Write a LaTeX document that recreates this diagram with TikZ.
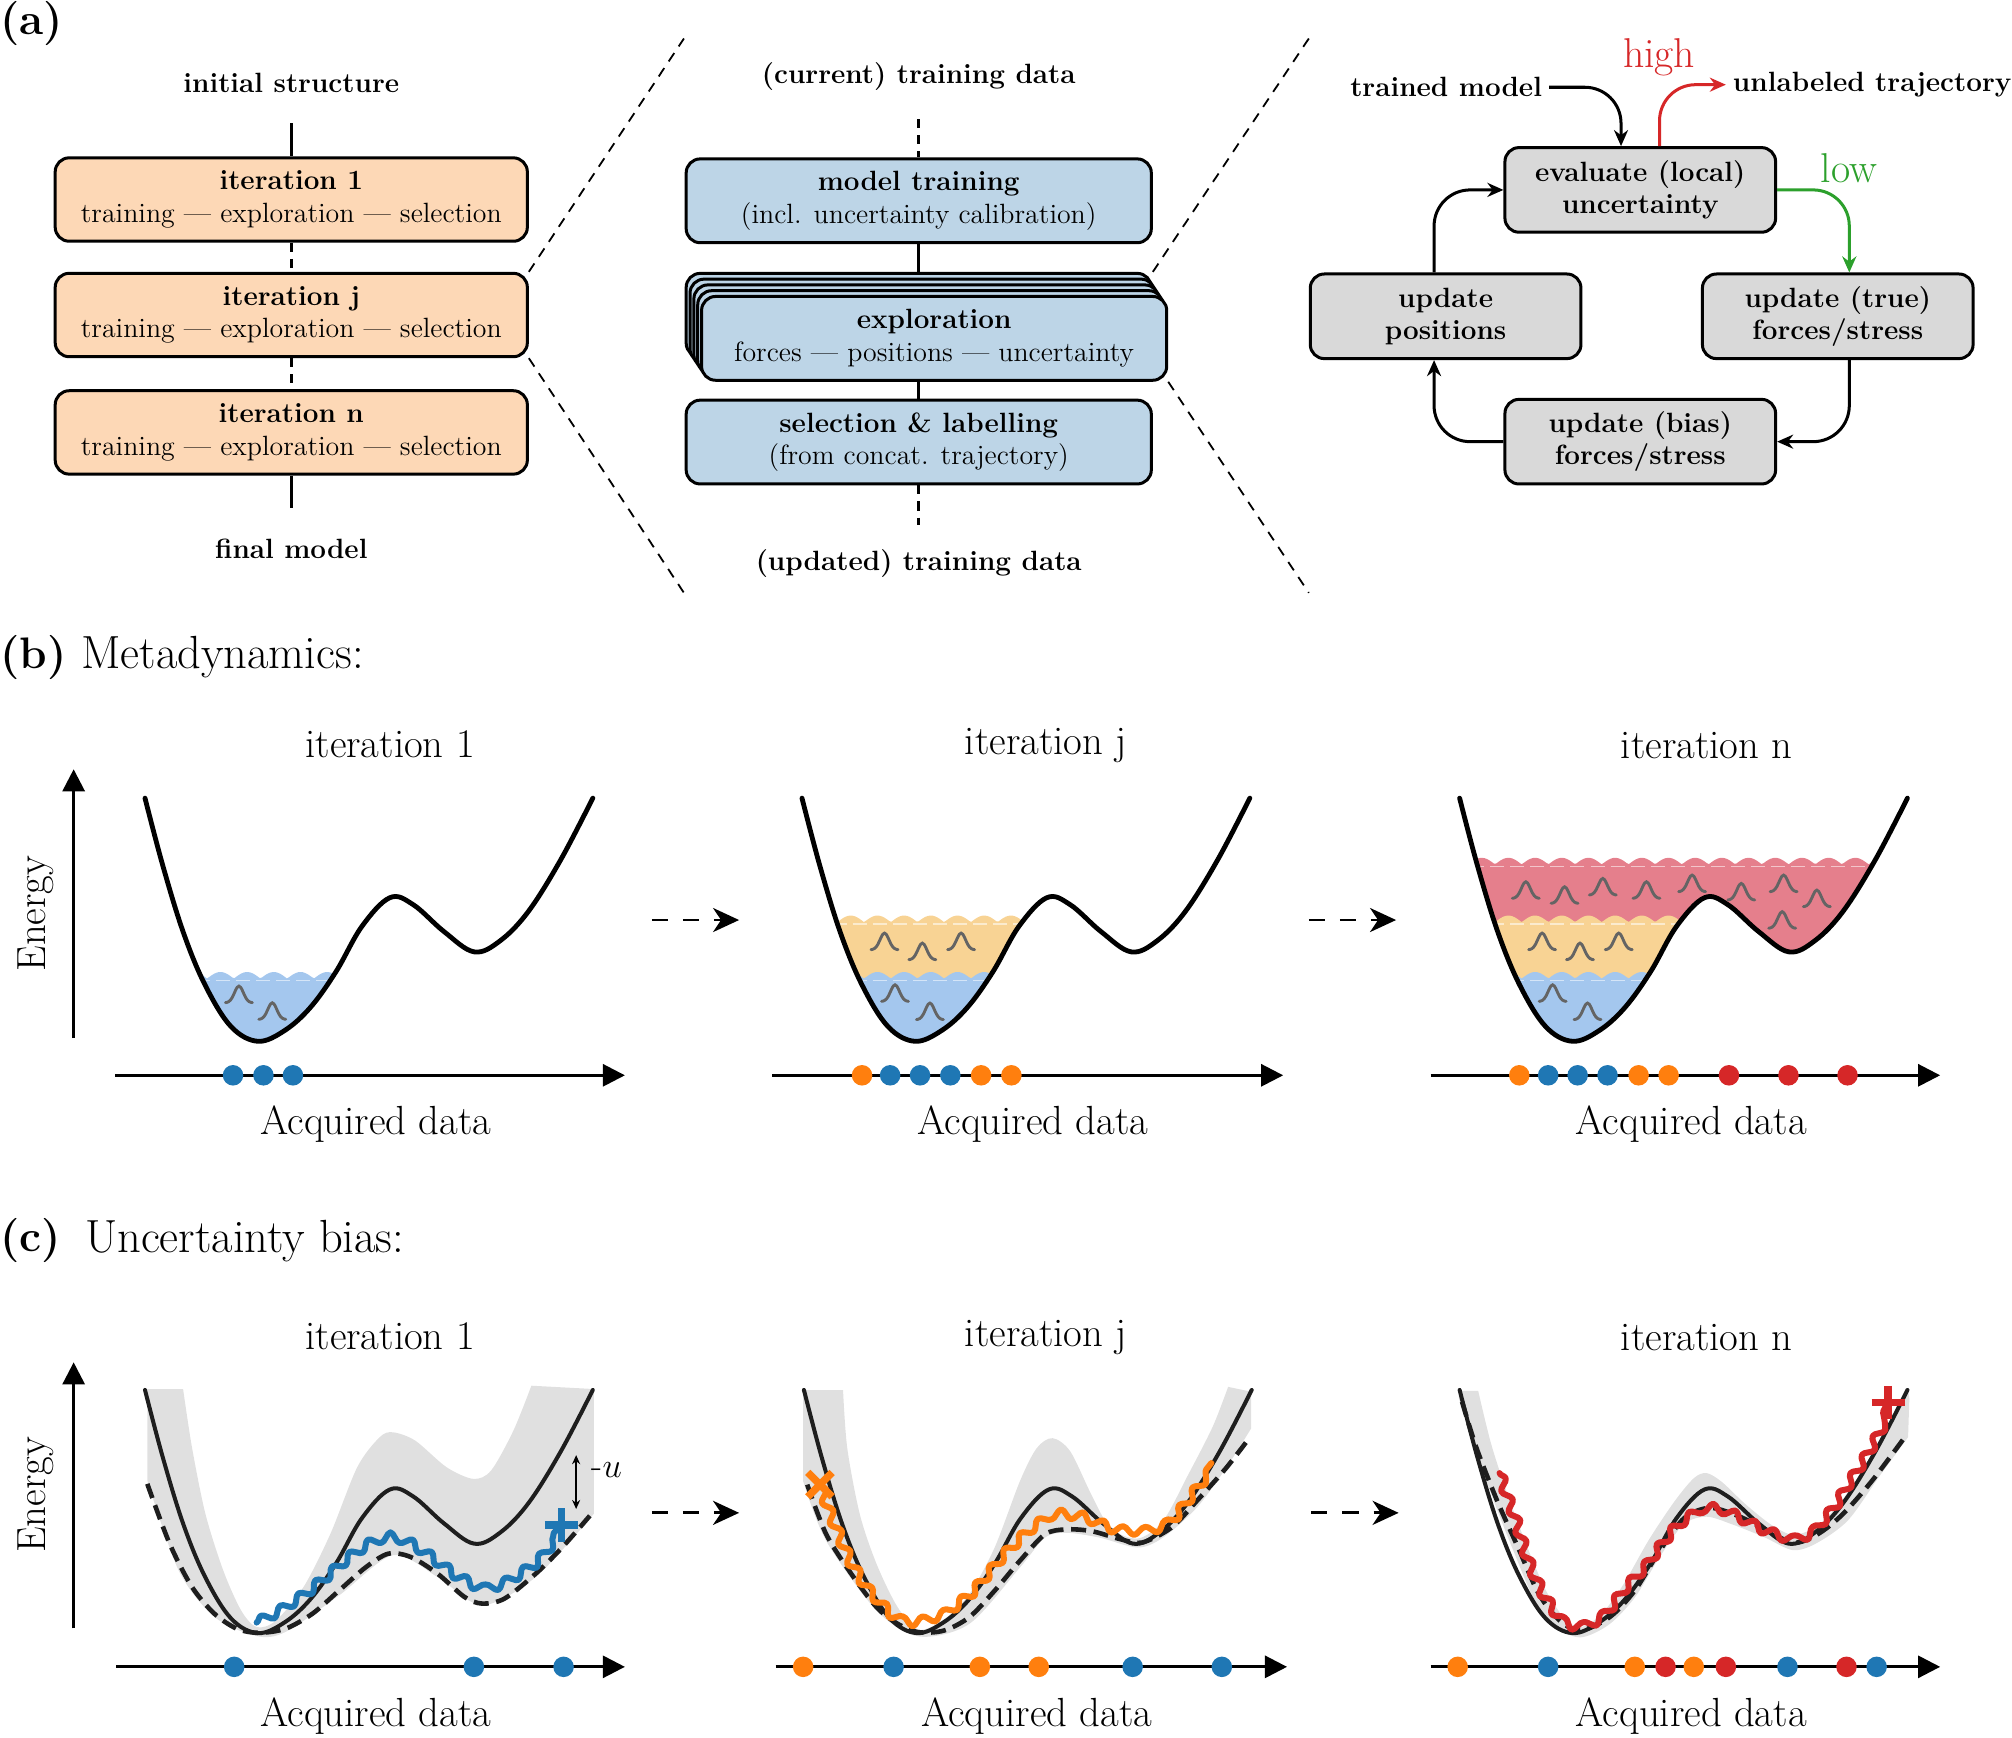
\documentclass[tikz,border=0pt]{standalone}
\usepackage{fontspec}
\usetikzlibrary{arrows.meta,calc,decorations.pathmorphing}

\definecolor{boxorange}{RGB}{253,216,182}
\definecolor{boxblue}{RGB}{189,213,231}
\definecolor{boxgrey}{RGB}{217,217,217}
\definecolor{waterblue}{RGB}{164,199,238}
\definecolor{waterorange}{RGB}{248,211,148}
\definecolor{waterred}{RGB}{229,127,140}
\definecolor{tabblue}{RGB}{31,119,180}
\definecolor{taborange}{RGB}{255,127,14}
\definecolor{tabred}{RGB}{214,39,40}
\definecolor{tabgreen}{RGB}{44,160,44}
\definecolor{bandgrey}{RGB}{224,224,224}
\definecolor{gaussgrey}{RGB}{100,100,100}
\definecolor{curvegrey}{RGB}{30,30,30}

\newcommand{\FSbox}{\fontsize{13.9}{16.2}\selectfont}
\newcommand{\FStitle}{\fontsize{20.3}{24}\selectfont}
\newcommand{\FShl}{\fontsize{20.8}{24}\selectfont}
\newcommand{\FSsec}{\fontsize{23.2}{27}\selectfont}
\newcommand{\FSlab}{\fontsize{22}{26}\selectfont}
\newcommand{\FSu}{\fontsize{18}{21}\selectfont}

\newcommand{\bcurve}{plot[smooth,tension=0.6] coordinates {(113,622) (127,675) (143,727) (160,768) (180,800) (201,811.5) (222,803) (242,785) (262,757) (282,722) (303.8,699.6) (322,705) (346,726) (369.5,741.8) (390,733) (412,710) (437,670) (462,622)}}
\newcommand{\bowlclip}{\clip \bcurve -- (462,600) -- (113,600) -- cycle;}
\newcommand{\waterfill}[2]{%
  \fill[#1] (90,830) -- plot[domain=90:480, samples=220] (\x,{#2+5.2-5.2*abs(sin(8.654*(\x-99)))}) -- (480,830) -- cycle;
  \draw[white, opacity=0.55, line width=0.6pt, dash pattern=on 7pt off 3pt] (90,#2+6.6) -- (480,#2+6.6);
}

\begin{document}
\begin{tikzpicture}[x=0.64pt,y=-0.64pt,
  txt/.style={inner sep=0pt},
  flowbox/.style={draw, line width=1.5pt, rounded corners=7pt, inner sep=0pt, align=center, font=\FSbox},
  orangebox/.style={flowbox, fill=boxorange, minimum width=235.5pt, minimum height=41.6pt},
  bluebox/.style={flowbox, fill=boxblue, minimum width=232pt, minimum height=41.8pt},
  greybox/.style={flowbox, fill=boxgrey, minimum width=135pt, minimum height=42.2pt, font=\FSbox\bfseries},
  solidcon/.style={line width=1.5pt},
  dashcon/.style={line width=1.5pt, dash pattern=on 4.5pt off 3.5pt},
  zoomline/.style={line width=0.9pt, dash pattern=on 5pt off 4pt},
  flow/.style={line width=1.5pt, rounded corners=18pt, -{Stealth[length=8pt,width=7pt]}},
  ecurve/.style={line width=2.4pt, line join=round, line cap=round},
  csolid/.style={line width=2pt, draw=curvegrey, line cap=round},
  cdash/.style={line width=2.3pt, draw=curvegrey, dash pattern=on 7.5pt off 3.8pt},
  axisarrow/.style={line width=1.4pt, -{Triangle[length=11pt,width=11pt]}},
  panelarrow/.style={line width=1.4pt, dash pattern=on 8pt off 7.5pt, -{Stealth[length=13pt,width=12pt,inset=4pt]}},
  traj/.style={line width=3pt, line cap=round, line join=round, decorate, decoration={snake, amplitude=2.1pt, segment length=11pt}},
  markline/.style={line width=3.7pt},
  gline/.style={line width=1.45pt, draw=gaussgrey, line cap=round},
  gauss/.pic={\draw[gline] plot[smooth,domain=-1:1,samples=17] ({10.5*\x},{6.5-13*exp(-4.6*\x*\x)});},
  ttl/.style={font=\FStitle},
  dotb/.style={fill=tabblue},
  doto/.style={fill=taborange},
  dotr/.style={fill=tabred}
]
\useasboundingbox (0,0) rectangle (1568,1354);

%% ================= (a) =================
\node[txt, font=\FSlab\bfseries, anchor=base west] (lbla) at (0,27) {(a)};
% left column
\node[font=\FSbox\bfseries] (init) at (227,65) {initial structure};
\node[orangebox] (it1) at (227,155.5) {\textbf{iteration 1}\\training \textemdash{} exploration \textemdash{} selection};
\node[orangebox] (itj) at (227,245.5) {\textbf{iteration j}\\training \textemdash{} exploration \textemdash{} selection};
\node[orangebox] (itn) at (227,337) {\textbf{iteration n}\\training \textemdash{} exploration \textemdash{} selection};
\node[font=\FSbox\bfseries] (final) at (227,428) {final model};
\coordinate (initend) at (227,96);
\coordinate (finalend) at (227,396);
\draw[solidcon] (initend) -- (it1.north);
\draw[dashcon] (it1.south) -- (itj.north);
\draw[dashcon] (itj.south) -- (itn.north);
\draw[solidcon] (itn.south) -- (finalend);
\coordinate (zl1) at (533,30);
\coordinate (zl2) at (533,462);
\draw[zoomline] (itj.north east) -- (zl1);
\draw[zoomline] (itj.south east) -- (zl2);

% middle column
\node[font=\FSbox\bfseries] (cur) at (716,60) {(current) training data};
\node[bluebox] (train) at (716,156.5) {\textbf{model training}\\(incl. uncertainty calibration)};
\foreach \i in {0,1,2,3}{\node[bluebox] (exb\i) at ({716+3*\i},{245.7+4.5*\i}) {};}
\node[bluebox] (expl) at (728,263.7) {\textbf{exploration}\\forces \textemdash{} positions \textemdash{} uncertainty};
\node[bluebox] (sel) at (716,344.5) {\textbf{selection \& labelling}\\(from concat. trajectory)};
\node[font=\FSbox\bfseries] (upd) at (716,439) {(updated) training data};
\coordinate (curend) at (716,93);
\coordinate (updend) at (716,409);
\draw[dashcon] (curend) -- (train.north);
\draw[solidcon] (train.south) -- (exb0.north);
\draw[solidcon] (sel.north |- expl.south) -- (sel.north);
\draw[dashcon] (sel.south) -- (updend);
\coordinate (zr1) at (1020,30);
\coordinate (zr2) at (1020,462);
\draw[zoomline] (exb0.north east) -- (zr1);
\draw[zoomline] (expl.south east) -- (zr2);

% right loop
\node[font=\FSbox\bfseries] (tm) at (1127,68) {trained model};
\node[font=\FSbox\bfseries, anchor=west] (ut) at (1345,66) {unlabeled trajectory};
\node[greybox] (eval) at (1278.3,148) {evaluate (local)\\uncertainty};
\node[greybox] (upos) at (1126.6,246.5) {update\\positions};
\node[greybox] (utrue) at (1432.2,246.5) {update (true)\\forces/stress};
\node[greybox] (ubias) at (1278.3,344.2) {update (bias)\\forces/stress};
\node[font=\FShl, text=tabred] (high) at (1293,45) {high};
\node[font=\FShl, text=tabgreen] (low) at (1441,131) {low};
\draw[flow] (tm.east) -| ($(eval.north)+(-15,0)$);
\draw[flow, draw=tabred, fill=none] ($(eval.north)+(15,0)$) |- (ut.west);
\draw[flow, draw=tabgreen] (eval.east) -| ($(utrue.north)+(9,0)$);
\draw[flow] ($(utrue.south)+(9,0)$) |- (ubias.east);
\draw[flow] (ubias.west) -| ($(upos.south)+(-9,0)$);
\draw[flow] ($(upos.north)+(-9,0)$) |- (eval.west);

%% ================= (b) =================
\node[txt, font=\FSlab\bfseries, anchor=base west] (lblb) at (0,521) {(b)};
\node[txt, font=\FSsec, anchor=base west] (ttlb) at (63,521) {Metadynamics:};
\node[ttl] (b1t) at (304,580) {iteration 1};
\node[ttl] (b2t) at (815,581) {iteration j};
\node[ttl] (b3t) at (1330,581) {iteration n};
\node[ttl, rotate=90] (benergy) at (28,712) {Energy};
\coordinate (bya) at (57.4,809);
\coordinate (byb) at (57.4,599.5);
\draw[axisarrow] (bya) -- (byb);

% panel b1
\begin{scope}
  \begin{scope}
    \bowlclip
    \clip (90,600) rectangle (303.8,830);
    \waterfill{waterblue}{757.5}
  \end{scope}
  \pic at (186.2,775) {gauss};
  \pic at (212.2,788) {gauss};
  \draw[ecurve] \bcurve;
\end{scope}
% panel b2
\begin{scope}[shift={(512,0)}]
  \begin{scope}
    \bowlclip
    \clip (90,600) rectangle (303.8,830);
    \waterfill{waterorange}{713.5}
    \waterfill{waterblue}{757.5}
  \end{scope}
  \pic at (185.5,774) {gauss};
  \pic at (212.7,788.2) {gauss};
  \pic at (177.3,733.7) {gauss};
  \pic at (206.8,741.5) {gauss};
  \pic at (237,733.7) {gauss};
  \draw[ecurve] \bcurve;
\end{scope}
% panel b3
\begin{scope}[shift={(1024.5,0)}]
  \begin{scope}
    \bowlclip
    \waterfill{waterred}{668.5}
  \end{scope}
  \begin{scope}
    \bowlclip
    \clip (90,600) rectangle (303.8,830);
    \waterfill{waterorange}{713.5}
    \waterfill{waterblue}{757.5}
  \end{scope}
  \pic at (185.5,774) {gauss};
  \pic at (212.7,788.2) {gauss};
  \pic at (177.3,733.7) {gauss};
  \pic at (206.8,741.5) {gauss};
  \pic at (237,733.7) {gauss};
  \pic at (164.6,693.7) {gauss};
  \pic at (194.8,697.6) {gauss};
  \pic at (224.6,691.1) {gauss};
  \pic at (258.6,693.7) {gauss};
  \pic at (294.2,688.5) {gauss};
  \pic at (332.5,695) {gauss};
  \pic at (365.5,688.5) {gauss};
  \pic at (391.4,700.2) {gauss};
  \pic at (364.4,717) {gauss};
  \draw[ecurve] \bcurve;
\end{scope}

% b axes and dots
\coordinate (bx1a) at (89.8,838); \coordinate (bx1b) at (487,838);
\coordinate (bx2a) at (602,838); \coordinate (bx2b) at (1000,838);
\coordinate (bx3a) at (1115,838); \coordinate (bx3b) at (1512,838);
\draw[axisarrow] (bx1a) -- (bx1b);
\draw[axisarrow] (bx2a) -- (bx2b);
\draw[axisarrow] (bx3a) -- (bx3b);
\foreach \p in {181.6,205.3,228.3}{\fill[dotb] (\p,838) circle[radius=8];}
\foreach \p in {693.7,717,740.6}{\fill[dotb] (\p,838) circle[radius=8];}
\foreach \p in {671.8,764.6,788.2}{\fill[doto] (\p,838) circle[radius=8];}
\foreach \p in {1206.5,1229.5,1252.8}{\fill[dotb] (\p,838) circle[radius=8];}
\foreach \p in {1184,1277,1300.4}{\fill[doto] (\p,838) circle[radius=8];}
\foreach \p in {1347.4,1393.8,1439.8}{\fill[dotr] (\p,838) circle[radius=8];}
\node[ttl] (b1d) at (293,876) {Acquired data};
\node[ttl] (b2d) at (805,876) {Acquired data};
\node[ttl] (b3d) at (1318,876) {Acquired data};
\coordinate (bp1a) at (508,717); \coordinate (bp1b) at (576,717);
\coordinate (bp2a) at (1020,717); \coordinate (bp2b) at (1088,717);
\draw[panelarrow] (bp1a) -- (bp1b);
\draw[panelarrow] (bp2a) -- (bp2b);

%% ================= (c) =================
\node[txt, font=\FSlab\bfseries, anchor=base west] (lblc) at (0,975) {(c)};
\node[txt, font=\FSsec, anchor=base west] (ttlc) at (66,976) {Uncertainty bias:};
\node[ttl] (c1t) at (304,1041) {iteration 1};
\node[ttl] (c2t) at (815,1042) {iteration j};
\node[ttl] (c3t) at (1330,1042) {iteration n};
\node[ttl, rotate=90] (cenergy) at (28,1165) {Energy};
\coordinate (cya) at (57.4,1269);
\coordinate (cyb) at (57.4,1061.7);
\draw[axisarrow] (cya) -- (cyb);

% panel c1
\fill[bandgrey] plot[smooth] coordinates {(142.7,1082.5) (149.6,1127.9) (160.1,1179.8) (174,1223.9) (187.9,1255) (200,1268) (215,1263) (236.6,1236.7) (257.5,1195.3) (278.4,1143.4) (295.8,1120.1) (306.2,1116.2) (323.6,1122.7) (348,1143.4) (368.8,1152.5) (382.7,1146) (400.1,1114.9) (414.1,1079.9)} -- (462.8,1082.5) -- plot[smooth] coordinates {(462.8,1179.7) (417.5,1229) (375.8,1251) (341,1229) (306.2,1212) (264.4,1243.2) (222.7,1271.7) (200,1275) (167,1260) (139.2,1223.8) (114.8,1153.8)} -- (114.8,1082.5) -- cycle;
\draw[cdash] plot[smooth] coordinates {(114.8,1156.4) (132.2,1203) (149.6,1236.7) (167,1257.5) (184.4,1269.2) (201.8,1272.5) (222.7,1269.2) (243.6,1257.5) (264.4,1239.4) (285.3,1221.2) (302.7,1210.8) (320.1,1213.4) (341,1226.4) (361.9,1244.5) (375.8,1249.7) (393.2,1245.8) (417.5,1226.4) (438.4,1205.6) (461,1179.7)};
\begin{scope}[shift={(0,461.2)}]
  \draw[csolid] \bcurve;
\end{scope}
\begin{scope}[transform canvas={shift={(300,1220)}}]
\draw[traj, tabblue, shift={(-300,-1220)}] plot coordinates {(200,1264.5) (209,1260) (218,1255) (227,1249) (236.6,1242) (245,1235) (254,1228) (262,1221) (271.4,1213.4) (279,1208) (287,1203) (295,1199.5) (302.7,1197.9) (310,1199.5) (318,1203) (326,1208) (334,1213.4) (344,1221) (355,1229) (365,1234.5) (375.8,1238) (384,1236) (393,1232) (402,1227) (410.6,1221.2) (418,1214) (425,1205) (431,1198) (437.7,1189)};
\end{scope}
\draw[markline, tabblue] (424.7,1188.4) -- (450.7,1188.4) (437.7,1175.4) -- (437.7,1201.4);
\coordinate (ua) at (449,1134);
\coordinate (ub) at (449,1176);
\draw[line width=0.8pt, {Stealth[length=4.5pt,width=4pt]}-{Stealth[length=4.5pt,width=4pt]}] (ua) -- (ub);
\node[font=\FSu] (ulab) at (473,1146) {-$u$};

% panel c2
\fill[bandgrey] plot[smooth] coordinates {(657,1083.3) (660.3,1128.6) (670.1,1180.2) (683.2,1219) (699.6,1252.6) (716,1270) (735.7,1262) (755.4,1242.3) (775.1,1206.1) (794.8,1154.4) (807.9,1128.6) (820.3,1120.8) (834.1,1131.1) (850.5,1164.7) (865.3,1190.6) (886.6,1199) (906.3,1185.4) (926,1149.2) (945,1112) (957.1,1080.8)} -- (975.1,1084.6) -- plot[smooth] coordinates {(975.1,1113.1) (955.5,1144.1) (932.5,1175.1) (906.3,1198.3) (886.6,1206) (857,1198.3) (830.8,1194.5) (814.4,1198.3) (794.8,1221.6) (755.4,1265.5) (716,1275.3) (683.2,1255.2) (643.9,1200.9) (625.9,1154.4)} -- (625.9,1083.3) -- cycle;
\draw[cdash] plot[smooth] coordinates {(629.1,1157) (643.9,1195.7) (663.6,1226.8) (683.2,1252.6) (699.6,1265.5) (716,1272) (735.7,1270.7) (755.4,1260.3) (775.1,1239.7) (794.8,1216.4) (814.4,1195.7) (830.8,1191.9) (850.5,1193.2) (873.5,1199.6) (889.9,1202.2) (912.8,1190.6) (932.5,1169.9) (955.5,1144.1) (973.5,1120.8)};
\begin{scope}[shift={(513.5,461.2)}]
  \draw[csolid] \bcurve;
\end{scope}
\begin{scope}[transform canvas={shift={(800,1220)}}]
\draw[traj, taborange, shift={(-800,-1220)}] plot coordinates {(639,1157) (646,1177) (653.7,1195.7) (661,1212) (670.1,1226.8) (678,1238) (686.5,1247.4) (694,1254.5) (702.9,1260.3) (711,1261.5) (719.3,1260.3) (727,1258) (735.7,1255.2) (745,1248) (755.4,1239.7) (765,1228.5) (775.1,1216.4) (785,1205.5) (794.8,1195.7) (804,1187.5) (814.4,1180.2) (825,1178.5) (837.4,1180.2) (849,1184.5) (860.4,1189.3) (873,1191.5) (886.6,1191.9) (896,1189.5) (906.3,1185.4) (915,1177.5) (922.7,1167.3) (933,1154) (944,1140.2)};
\end{scope}
\draw[markline, taborange] (629.5,1147.5) -- (648.5,1166.5) (648.5,1147.5) -- (629.5,1166.5);

% panel c3
\fill[bandgrey] plot[smooth] coordinates {(1152,1084) (1162,1125) (1175,1165) (1190,1205) (1205,1240) (1220,1262) (1232,1268) (1248,1258) (1265,1235) (1285,1200) (1305,1170) (1320,1152) (1330,1148) (1342,1155) (1360,1172) (1380,1188) (1397,1196) (1415,1190) (1435,1170) (1455,1140) (1472,1110) (1487,1083)} -- (1488,1090) -- plot[smooth] coordinates {(1487,1120) (1465,1150) (1440,1185) (1415,1203) (1397,1208) (1375,1198) (1350,1188) (1330,1182) (1312,1188) (1293,1214) (1274,1245) (1254,1266) (1232,1276) (1212,1268) (1195,1245) (1180,1210) (1165,1172) (1150,1130) (1137,1090)} -- (1137,1084) -- cycle;
\draw[cdash] plot[smooth] coordinates {(1139.4,1092.4) (1150.7,1128.6) (1166.9,1169.9) (1183.1,1206.1) (1199.3,1242.3) (1215.5,1262.9) (1231.7,1270.7) (1254.4,1260.3) (1273.9,1239.7) (1293.3,1208.7) (1312.8,1182.8) (1332.2,1175.1) (1351.6,1180.2) (1371.1,1189.3) (1397,1202.2) (1416.4,1195.7) (1435.9,1180.2) (1458.6,1154.4) (1482.9,1122.1)};
\begin{scope}[shift={(1024.5,461.2)}]
  \draw[csolid] \bcurve;
\end{scope}
\begin{scope}[transform canvas={shift={(1320,1180)}}]
\draw[traj, tabred, shift={(-1320,-1180)}] plot coordinates {(1168.6,1148) (1174,1164) (1179.9,1180.2) (1184.5,1196) (1189.6,1211.2) (1196,1226) (1202.6,1239.7) (1209,1249.5) (1215.5,1257.7) (1223,1261) (1231.7,1261.6) (1240,1258) (1248,1252.6) (1256,1243) (1264.1,1231.9) (1274,1221.5) (1283.6,1211.2) (1293,1198) (1303,1185.4) (1311,1178) (1319.2,1172.5) (1327,1170.5) (1335.4,1169.9) (1343,1171.5) (1351.6,1175.1) (1361,1180) (1371.1,1185.4) (1384,1190) (1397,1193.2) (1405,1190.5) (1413.2,1185.4) (1421,1176) (1429.4,1164.7) (1437,1152) (1445.6,1138.9) (1454,1125) (1461.8,1110.5) (1467,1101) (1471.5,1092.4)};
\end{scope}
\draw[markline, tabred] (1458.5,1093) -- (1484.5,1093) (1471.5,1080) -- (1471.5,1106);

% c axes and dots
\coordinate (cx1a) at (90.5,1299); \coordinate (cx1b) at (487,1299);
\coordinate (cx2a) at (604.5,1299); \coordinate (cx2b) at (1003,1299);
\coordinate (cx3a) at (1115,1299); \coordinate (cx3b) at (1512,1299);
\draw[axisarrow] (cx1a) -- (cx1b);
\draw[axisarrow] (cx2a) -- (cx2b);
\draw[axisarrow] (cx3a) -- (cx3b);
\foreach \p in {182.5,369.3,439.2}{\fill[dotb] (\p,1299) circle[radius=8];}
\foreach \p in {696.4,882.7,952.2}{\fill[dotb] (\p,1299) circle[radius=8];}
\foreach \p in {625.9,763.6,809.5}{\fill[doto] (\p,1299) circle[radius=8];}
\foreach \p in {1206.5,1393,1462.5}{\fill[dotb] (\p,1299) circle[radius=8];}
\foreach \p in {1136,1274,1320}{\fill[doto] (\p,1299) circle[radius=8];}
\foreach \p in {1298,1345,1439}{\fill[dotr] (\p,1299) circle[radius=8];}
\node[ttl] (c1d) at (293,1337) {Acquired data};
\node[ttl] (c2d) at (808,1337) {Acquired data};
\node[ttl] (c3d) at (1318,1337) {Acquired data};
\coordinate (cp1a) at (508,1179); \coordinate (cp1b) at (576,1179);
\coordinate (cp2a) at (1022,1179); \coordinate (cp2b) at (1090,1179);
\draw[panelarrow] (cp1a) -- (cp1b);
\draw[panelarrow] (cp2a) -- (cp2b);
\end{tikzpicture}
\end{document}
